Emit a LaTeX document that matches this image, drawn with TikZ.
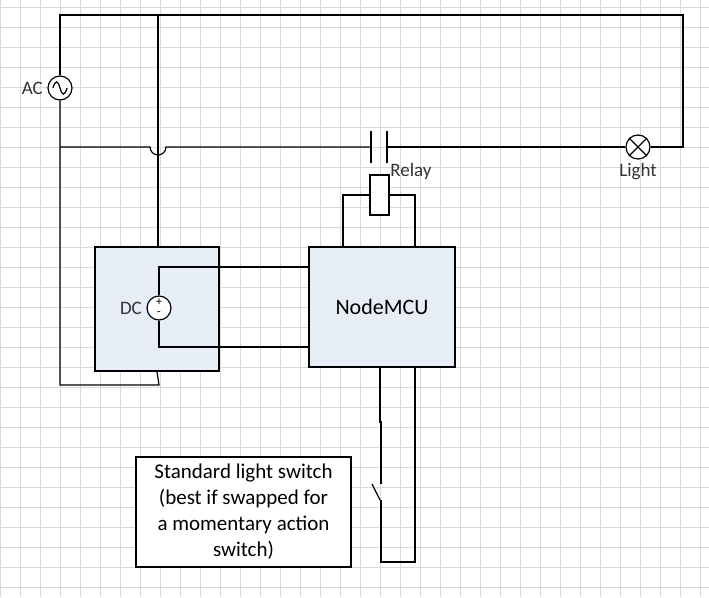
\documentclass[tikz,border=0pt]{standalone}
\usepackage{fontspec}
\setmainfont{Carlito}
\usetikzlibrary{positioning}
\definecolor{boxblue}{HTML}{E6EDF7}
\tikzset{
	wire/.style={line width=1.2pt,black},
	block/.style={draw,line width=1.2pt,fill=boxblue,minimum width=#1,inner sep=0pt},
	src/.style={draw,line width=1.2pt,circle,fill=white,minimum size=24pt,inner sep=0pt},
	lbl/.style={font=\fontsize{19}{21}\selectfont,text=black!80},
}
\begin{document}
\begin{tikzpicture}[x=1pt,y=-1pt]
		\useasboundingbox (0,0) rectangle (709,597);
		% grid
		\foreach \i in {0,...,35} \draw[gray!30] (\i*20,0) -- (\i*20,597);
		\foreach \j in {0,...,29} \draw[gray!30] (0,7+\j*20) -- (709,7+\j*20);
		
		% blocks
		\node[block=124pt,minimum height=124pt] (dcbox) at (157,309) {};
		\node[block=146pt,minimum height=120pt,font=\fontsize{22}{24}\selectfont] (mcu) at (382,307) {NodeMCU};
		\node[draw,line width=1.2pt,fill=white,minimum width=215pt,minimum height=110pt,inner sep=0pt,align=center,font=\fontsize{21}{26}\selectfont] (note) at (243.5,512) {Standard light switch\\ (best if swapped for\\ a momentary action\\ switch)};
		
		% sources
		\node[src] (ac) at (60,88) {};
		\draw[line width=1.2pt] ([xshift=-7pt]ac.center) .. controls +(2,-8) and +(-2,-8) .. (ac.center) .. controls +(2,8) and +(-2,8) .. ([xshift=7pt]ac.center);
		\node[lbl,left=1pt of ac] {AC};
		\node[src] (dc) at (159,308) {};
		\node[font=\large] at ([yshift=6pt]dc.center) {+};
		\node[font=\large] at ([yshift=-6pt]dc.center) {-};
		\node[lbl,left=1pt of dc] {DC};
		\node[src] (light) at (638,147) {};
		\draw[line width=1.2pt] (light.45) -- (light.225) (light.135) -- (light.315);
		\node[lbl,below=0pt of light] {Light};
		
		% relay
		\node[draw,line width=1.2pt,fill=white,minimum width=19pt,minimum height=40pt,inner sep=0pt] (coil) at (379.5,195) {};
		\node[lbl] at (411,171) {Relay};
		\coordinate (capl) at (371,147);
		\coordinate (capr) at (387,147);
		\draw[line width=1.2pt] (371,131) -- (371,163) (387,131) -- (387,163);
		
		% mains
		\draw[wire] (ac.north) -- (60,15) -- (683,15) -- (683,147) -- (light.east);
		\draw[wire] (light.west) -- (capr);
		\draw[wire] (capl) -- (166,147) arc (0:180:8) -- (60,147);
		\draw[wire] (ac.south) -- (60,385) -- (159,385) -- (dcbox.south);
		\draw[wire] (158,15) -- (158,247);
		
		% low voltage
		\draw[wire] (dc.north) -- (159,267) -- (mcu.west |- 0,267);
		\draw[wire] (dc.south) -- (159,347) -- (mcu.west |- 0,347);
		\draw[wire] (coil.west) -- (343,195) -- (343,247);
		\draw[wire] (coil.east) -- (415,195) -- (415,247);
		
		% switch
		\draw[wire] (380,367) -- (380,422) -- (381,422) -- (381,484);
		\draw[line width=1.2pt] (372,484) -- (380,500);
		\draw[wire] (381,500) -- (381,562) -- (415,562) -- (415,367);
	\end{tikzpicture}
\end{document}
